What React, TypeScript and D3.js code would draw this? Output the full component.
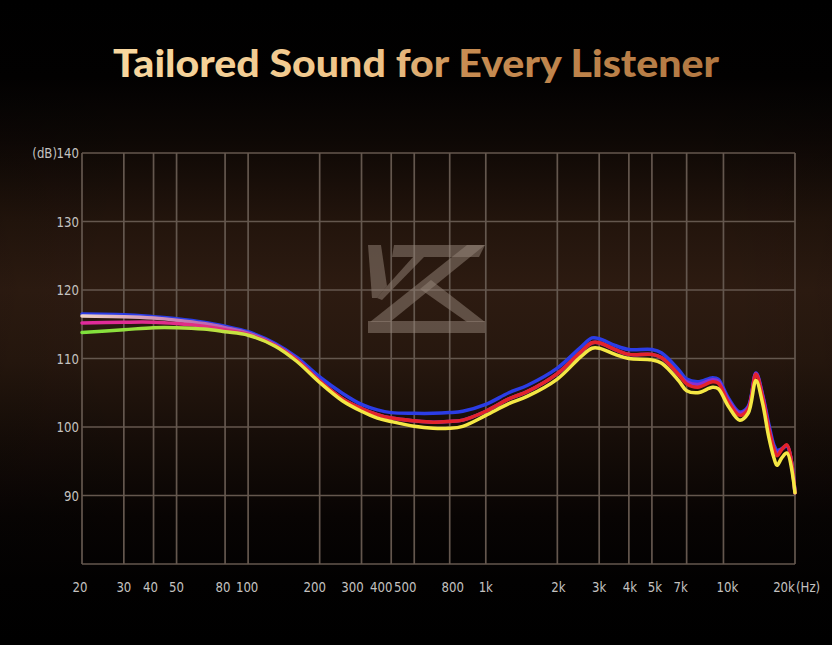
import React from 'react';
import * as d3 from 'd3';

const W = 832;
const H = 645;

// Frequency response data (Hz -> dB SPL)
const freqs = [20, 30, 40, 50, 65, 80, 100, 130, 160, 200, 250, 300, 350, 400, 500, 600, 700, 800, 1000, 1250, 1500, 2000, 2500, 2800, 3000, 3500, 4000, 5000, 5500, 6500, 7000, 7800, 9000, 9500, 10500, 11700, 12700, 13700, 14600, 15500, 16300, 16800, 17600, 18500, 20000];

const blueDb = [116.5, 116.4, 116.1, 115.8, 115.3, 114.7, 113.9, 112.2, 110.2, 107.3, 104.9, 103.3, 102.5, 102.1, 102.0, 102.0, 102.1, 102.3, 103.3, 105.0, 106.1, 108.6, 111.6, 113.0, 112.9, 111.9, 111.3, 111.3, 110.8, 108.3, 107.0, 106.6, 107.2, 107.0, 104.2, 102.2, 103.0, 107.9, 104.8, 100.5, 97.4, 96.6, 96.8, 97.2, 90.4];
const purpleDb = [116.2, 116.1, 115.9, 115.6, 115.1, 114.5, 113.7, 112.0, 109.9, 106.8, 104.1, 102.7, 101.8, 101.3, 100.9, 100.7, 100.8, 101.0, 102.3, 104.1, 105.2, 107.8, 110.9, 112.3, 112.3, 111.3, 110.6, 110.6, 110.1, 107.6, 106.6, 106.2, 106.9, 106.7, 103.9, 102.0, 102.8, 107.8, 104.6, 100.1, 97.0, 96.2, 96.8, 97.3, 90.4];
const redDb = [115.2, 115.3, 115.3, 115.1, 114.7, 114.2, 113.5, 111.9, 109.8, 106.7, 104.1, 102.7, 101.8, 101.3, 100.9, 100.7, 100.8, 101.0, 102.3, 104.1, 105.2, 107.8, 110.9, 112.3, 112.3, 111.3, 110.6, 110.6, 110.1, 107.6, 106.3, 105.8, 106.6, 106.4, 103.6, 101.7, 102.6, 107.7, 104.4, 99.8, 96.8, 95.8, 96.7, 97.4, 90.4];
const yellowDb = [113.8, 114.2, 114.5, 114.5, 114.3, 113.9, 113.4, 111.8, 109.6, 106.5, 103.8, 102.3, 101.3, 100.8, 100.1, 99.8, 99.8, 100.1, 101.7, 103.4, 104.5, 107.0, 110.2, 111.5, 111.5, 110.6, 110.0, 109.8, 109.3, 106.7, 105.3, 105.0, 105.8, 105.6, 103.0, 101.0, 102.0, 106.8, 103.5, 98.6, 95.5, 94.4, 95.5, 96.2, 90.4];

// grid positions (Hz) as drawn in the original; the "800" line sits near 705 Hz there
const xGridValues = [20, 30, 40, 50, 80, 100, 200, 300, 400, 500, 705, 1000, 2000, 3000, 4000, 5000, 7000, 10000, 20000];
const xTickLabels = ['20', '30', '40', '50', '80', '100', '200', '300', '400', '500', '800', '1k', '2k', '3k', '4k', '5k', '7k', '10k', '20k'];
const yTickValues = [90, 100, 110, 120, 130, 140];
const yGridValues = [80, 90, 100, 110, 120, 130, 140];

// layout nudges for x labels (px), as in the original
const xLabelNudge = [-2, 0, -3, 0, -2, -1, -5, -9, -10, -9, 3, 0, 1, 0, 1, 3, -6, 4, -11];

const PLOT = { left: 82, right: 795, top: 153, bottom: 564 };

export default function App() {
  const x = d3.scaleLog().domain([20, 20000]).range([PLOT.left, PLOT.right]);
  const y = d3.scaleLinear().domain([80, 140]).range([PLOT.bottom, PLOT.top]);

  const mk = (vals: number[]) =>
    d3
      .line<number>()
      .x((_, i) => x(freqs[i]))
      .y((d) => y(d))
      .curve(d3.curveCatmullRom.alpha(0.5))(vals) || '';

  const series = [
    { id: 'blue', vals: blueDb, stroke: '#2b3de6' },
    { id: 'purple', vals: purpleDb, stroke: 'url(#gPurple)' },
    { id: 'red', vals: redDb, stroke: 'url(#gRed)' },
    { id: 'yellow', vals: yellowDb, stroke: 'url(#gYellow)' },
  ];

  const off = (px: number) => (px - PLOT.left) / (PLOT.right - PLOT.left);

  const labelFont = "'DejaVu Sans', sans-serif";
  const sq = 0.84; // horizontal squeeze to mimic condensed labels

  // KZ watermark polygons, local coordinates (117 x 89 box)
  const logo = [
    [[0, 1], [13, 1], [19, 42], [9, 54], [4, 54]],
    [[9, 54], [19, 42], [45, 13], [56, 13], [14, 56]],
    [[26, 1], [117, 1], [111, 13], [24, 13]],
    [[99, 1], [117, 1], [22, 78], [2, 78]],
    [[0, 77], [117, 77], [117, 89], [0, 89]],
    [[52, 45], [63, 36], [117, 78], [99, 78]],
  ];

  return (
    <svg
      width={W}
      height={H}
      viewBox={`0 0 ${W} ${H}`}
      style={{ position: 'fixed', left: 0, top: 0, display: 'block' }}
    >
      <defs>
        <linearGradient id="bg" x1="0" y1="0" x2="0" y2="1">
          <stop offset="0" stopColor="#000000" />
          <stop offset="0.12" stopColor="#020101" />
          <stop offset="0.22" stopColor="#0e0805" />
          <stop offset="0.34" stopColor="#22140c" />
          <stop offset="0.45" stopColor="#2d1b11" />
          <stop offset="0.56" stopColor="#26170e" />
          <stop offset="0.68" stopColor="#160d08" />
          <stop offset="0.8" stopColor="#080403" />
          <stop offset="0.9" stopColor="#020101" />
          <stop offset="1" stopColor="#000000" />
        </linearGradient>
        <radialGradient id="vign" cx="0.5" cy="0.48" r="0.75">
          <stop offset="0.5" stopColor="#000" stopOpacity="0" />
          <stop offset="1" stopColor="#000" stopOpacity="0.2" />
        </radialGradient>
        <linearGradient id="title" gradientUnits="userSpaceOnUse" x1="113" y1="0" x2="719" y2="0">
          <stop offset="0" stopColor="#f8d8a0" />
          <stop offset="0.45" stopColor="#eec286" />
          <stop offset="0.58" stopColor="#c78c52" />
          <stop offset="1" stopColor="#b27842" />
        </linearGradient>
        <linearGradient id="gRed" gradientUnits="userSpaceOnUse" x1={PLOT.left} y1="0" x2={PLOT.right} y2="0">
          <stop offset="0" stopColor="#e02a9c" />
          <stop offset={off(230)} stopColor="#e0307c" />
          <stop offset={off(330)} stopColor="#e3232b" />
          <stop offset="1" stopColor="#e3232b" />
        </linearGradient>
        <linearGradient id="gYellow" gradientUnits="userSpaceOnUse" x1={PLOT.left} y1="0" x2={PLOT.right} y2="0">
          <stop offset="0" stopColor="#7ee03c" />
          <stop offset={off(210)} stopColor="#b8e040" />
          <stop offset={off(320)} stopColor="#f4e744" />
          <stop offset="1" stopColor="#f4e744" />
        </linearGradient>
        <linearGradient id="gPurple" gradientUnits="userSpaceOnUse" x1={PLOT.left} y1="0" x2={PLOT.right} y2="0">
          <stop offset="0" stopColor="#eed2c6" />
          <stop offset={off(200)} stopColor="#c070b0" />
          <stop offset={off(320)} stopColor="#8a2fd0" />
          <stop offset="1" stopColor="#8a2fd0" />
        </linearGradient>
      </defs>

      <rect x={0} y={0} width={W} height={H} fill="url(#bg)" />
      <rect x={0} y={0} width={W} height={H} fill="url(#vign)" />

      <text
        x={416}
        y={77}
        textAnchor="middle"
        fontFamily="Lato, 'Open Sans', sans-serif"
        fontWeight={900}
        fontSize={37}
        fill="url(#title)"
        textLength={606}
        lengthAdjust="spacingAndGlyphs"
      >
        Tailored Sound for Every Listener
      </text>

      {/* grid */}
      <g stroke="#64574e" strokeWidth={1.7} fill="none">
        {yGridValues.map((v) => (
          <line key={'h' + v} x1={PLOT.left} x2={PLOT.right} y1={y(v)} y2={y(v)} />
        ))}
        {xGridValues.map((v) => (
          <line key={'v' + v} x1={x(v)} x2={x(v)} y1={PLOT.top} y2={PLOT.bottom} />
        ))}
      </g>

      {/* watermark */}
      <g transform="translate(368,244)" fill="#958679" fillOpacity={0.5}>
        {logo.map((p, i) => (
          <polygon key={i} points={p.map((q) => q.join(',')).join(' ')} />
        ))}
      </g>

      {/* curves */}
      <g fill="none" strokeWidth={3.5} strokeLinejoin="round" strokeLinecap="round">
        {series.map((s) => (
          <path key={s.id} d={mk(s.vals)} stroke={s.stroke} />
        ))}
      </g>

      {/* y labels */}
      <g fontFamily={labelFont} fontSize={14} fill="#c4c2c0">
        {yTickValues.map((v) => (
          <g key={'yl' + v} transform={`translate(79,${y(v)}) scale(${sq},1)`}>
            <text dy="0.36em" textAnchor="end">
              {v}
            </text>
          </g>
        ))}
        <g transform={`translate(57,${y(140)}) scale(${sq},1)`}>
          <text dy="0.36em" textAnchor="end">
            (dB)
          </text>
        </g>
      </g>

      {/* x labels */}
      <g fontFamily={labelFont} fontSize={14} fill="#c4c2c0">
        {xGridValues.map((v, i) => (
          <g key={'xl' + v} transform={`translate(${x(v) + xLabelNudge[i]},592) scale(${sq},1)`}>
            <text textAnchor="middle">{xTickLabels[i]}</text>
          </g>
        ))}
        <g transform={`translate(796,592) scale(${sq},1)`}>
          <text textAnchor="start">(Hz)</text>
        </g>
      </g>
    </svg>
  );
}
